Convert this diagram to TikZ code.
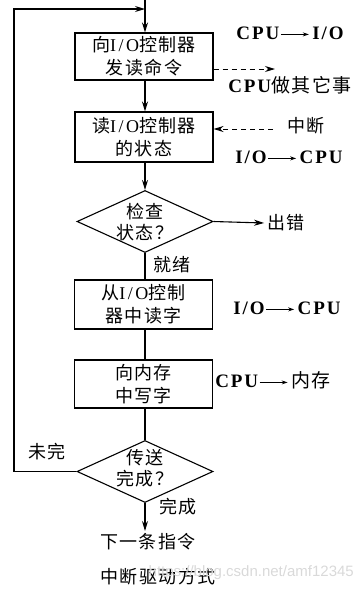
\documentclass[tikz,border=0pt]{standalone}
\usepackage{fontspec}
\setmainfont{Liberation Serif}
\newfontfamily\cjk[LetterSpace=8]{Noto Sans CJK SC}
\newfontfamily\lbl[LetterSpace=10]{Liberation Serif}
\newfontfamily\iof[LetterSpace=14]{Liberation Serif}
\newfontfamily\wm{Liberation Sans}
\usetikzlibrary{arrows.meta,shapes.geometric}
\newcommand{\ra}{\hspace{1pt}\raisebox{0.32ex}{\tikz\draw[-{Stealth[length=6pt,width=4pt]},line width=1pt](0,0)--(28pt,0);}\hspace{3pt}}
\newcommand{\io}{{\iof I/O}}
\begin{document}
\begin{tikzpicture}[x=1pt,y=-1pt,
  every node/.style={inner sep=0pt,font=\fontsize{18}{23}\selectfont},
  procbox/.style={draw,line width=1.1pt,minimum width=138pt,align=center},
  decision/.style={draw,diamond,line width=1.1pt,minimum width=136pt,minimum height=62pt,inner sep=0pt},
  flow/.style={line width=1.1pt},
  arr/.style={flow,-{Stealth[length=10pt,width=6pt]}},
  darr/.style={line width=1pt,dashed,dash pattern=on 5pt off 4pt,-{Stealth[length=10pt,width=6pt]}},
  side/.style={font=\fontsize{19}{22}\selectfont\lbl\bfseries},
  txt/.style={font=\fontsize{18}{21}\selectfont\cjk}]
\useasboundingbox (0,0) rectangle (363,590);
% nodes
\node[procbox,minimum height=47pt] (b1) at (144,56.5) {{\cjk 向}\io{\cjk 控制器}\\{\cjk 发读命令}};
\node[procbox,minimum height=50pt] (b2) at (144,137) {{\cjk 读}\io{\cjk 控制器}\\{\cjk 的状态}};
\node[decision] (d1) at (145,221.5) {};
\node[txt,align=center] (d1t) at (145,222) {检查\\状态？};
\node[procbox,minimum height=49pt] (b3) at (143.5,304.5) {{\cjk 从}\io{\cjk 控制}\\{\cjk 器中读字}};
\node[procbox,minimum height=48pt] (b4) at (143.5,384) {{\cjk 向内存}\\{\cjk 中写字}};
\node[decision] (d2) at (145,471.5) {};
\node[txt,align=center] (d2t) at (145,468) {传送\\完成？};
\node[txt] (next) at (148,542) {下一条指令};
\node[txt] (title) at (158,577) {中断驱动方式};
\node[anchor=east,text=black!15,font=\fontsize{15}{18}\selectfont\wm] (wmk) at (354,573) {https://blog.csdn.net/amf12345};
% side labels
\node[side] (l1) at (290,33) {CPU\ra I/O};
\node[side] (l2) at (290,85) {CPU{\cjk\mdseries 做其它事}};
\node[txt] (l3) at (306,126) {中断};
\node[side] (l4) at (289,157) {I/O\ra CPU};
\node[side] (l5) at (287,308) {I/O\ra CPU};
\node[side] (l6) at (273,380) {CPU\ra{\cjk\mdseries 内存}};
\node[txt] (err) at (286,223) {出错};
\node[txt] (ready) at (172,265) {就绪};
\node[txt] (notdone) at (47,452) {未完};
\node[txt] (done) at (178,507) {完成};
% coordinates
\coordinate (top) at (145,0);
\coordinate (join) at (145,9);
\coordinate (loopl) at (14,471.5);
\coordinate (loopt) at (14,9);
\coordinate (c1) at (275,69);
\coordinate (c2) at (273,129);
\coordinate (nextend) at (145,531);
% connectors
\draw[arr] (top) -- (top |- b1.north);
\draw[arr] (b1.south -| d1) -- (b2.north -| d1);
\draw[arr] (b2.south -| d1) -- (d1.north);
\draw[flow] (d1.south) -- (b3.north -| d1);
\draw[flow] (b3.south -| d1) -- (b4.north -| d1);
\draw[flow] (b4.south -| d1) -- (d2.north);
\draw[arr] (d2.south) -- (nextend);
\draw[arr] (d2.west) -- (loopl) -- (loopt) -- (join);
\draw[darr] ([yshift=-12.5pt]b1.east) -- (c1);
\draw[darr] (c2) -- ([yshift=8pt]b2.east);
\draw[arr] (d1.east) -- ([xshift=-3pt]err.west);
\end{tikzpicture}
\end{document}
